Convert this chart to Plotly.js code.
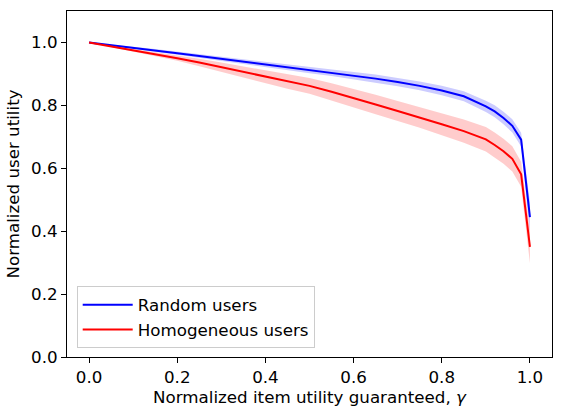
<!DOCTYPE html>
<html>
<head>
<meta charset="utf-8">
<script src="https://cdn.plot.ly/plotly-3.0.1.min.js"></script>
<style>
  html, body { margin: 0; padding: 0; background: #fff; }
  #myDiv { width: 561px; height: 414px; }
</style>
</head>
<body>
<div id="myDiv"></div>
<script>
var gamma = [0, 0.05, 0.1, 0.15, 0.2, 0.25, 0.3, 0.35, 0.4, 0.45, 0.5, 0.55, 0.6, 0.65, 0.7, 0.75, 0.8, 0.85, 0.9, 0.92, 0.94, 0.96, 0.98, 1.0];

var randomMean = [1.0, 0.992, 0.983, 0.975, 0.966, 0.957, 0.948, 0.939, 0.930, 0.922, 0.913, 0.904, 0.895, 0.885, 0.874, 0.862, 0.847, 0.829, 0.797, 0.781, 0.760, 0.735, 0.691, 0.445];
var randomStd  = [0, 0.002, 0.003, 0.004, 0.005, 0.006, 0.007, 0.008, 0.009, 0.010, 0.011, 0.011, 0.012, 0.013, 0.013, 0.014, 0.015, 0.016, 0.018, 0.019, 0.020, 0.021, 0.022, 0.045];

var homoMean = [1.0, 0.988, 0.975, 0.962, 0.950, 0.936, 0.921, 0.906, 0.891, 0.876, 0.862, 0.843, 0.824, 0.803, 0.782, 0.762, 0.740, 0.718, 0.692, 0.674, 0.654, 0.630, 0.581, 0.350];
var homoStd  = [0, 0.002, 0.004, 0.006, 0.008, 0.012, 0.015, 0.018, 0.020, 0.023, 0.025, 0.027, 0.029, 0.031, 0.032, 0.033, 0.035, 0.037, 0.039, 0.040, 0.040, 0.040, 0.040, 0.052];

function band(mean, std, sign) {
  return mean.map(function (m, i) { return m + sign * std[i]; });
}

var font = 'DejaVu Sans, sans-serif';
var fs = 16.7;

var data = [
  {x: gamma, y: band(randomMean, randomStd, -1), mode: 'lines', line: {width: 0}, showlegend: false, hoverinfo: 'skip'},
  {x: gamma, y: band(randomMean, randomStd, 1), mode: 'lines', line: {width: 0}, fill: 'tonexty', fillcolor: 'rgba(0,0,255,0.2)', showlegend: false, hoverinfo: 'skip'},
  {x: gamma, y: randomMean, mode: 'lines', name: 'Random users', line: {color: 'blue', width: 2}},
  {x: gamma, y: band(homoMean, homoStd, -1), mode: 'lines', line: {width: 0}, showlegend: false, hoverinfo: 'skip'},
  {x: gamma, y: band(homoMean, homoStd, 1), mode: 'lines', line: {width: 0}, fill: 'tonexty', fillcolor: 'rgba(255,0,0,0.2)', showlegend: false, hoverinfo: 'skip'},
  {x: gamma, y: homoMean, mode: 'lines', name: 'Homogeneous users', line: {color: 'red', width: 2}}
];

var layout = {
  width: 561,
  height: 414,
  margin: {l: 67, r: 9, t: 11, b: 57},
  paper_bgcolor: 'white',
  plot_bgcolor: 'white',
  font: {family: font, size: fs, color: '#000'},
  xaxis: {
    range: [-0.05, 1.05],
    tickvals: [0, 0.2, 0.4, 0.6, 0.8, 1.0],
    tickformat: '.1f',
    ticks: 'outside', ticklen: 5, tickcolor: '#000',
    showline: true, mirror: true, linecolor: '#000', linewidth: 1,
    showgrid: false, zeroline: false,
    tickfont: {size: fs},
    title: {text: 'Normalized item utility guaranteed, <i>γ</i>', font: {size: fs}, standoff: 5}
  },
  yaxis: {
    range: [0, 1.1],
    tickvals: [0, 0.2, 0.4, 0.6, 0.8, 1.0],
    tickformat: '.1f',
    ticks: 'outside', ticklen: 5, tickcolor: '#000',
    showline: true, mirror: true, linecolor: '#000', linewidth: 1,
    showgrid: false, zeroline: false,
    tickfont: {size: fs},
    title: {text: 'Normalized user utility', font: {size: fs}, standoff: 7}
  },
  legend: {
    x: 0.02, y: 0.025, xanchor: 'left', yanchor: 'bottom',
    traceorder: 'normal',
    itemwidth: 50,
    bgcolor: 'rgba(255,255,255,0.8)', bordercolor: '#cccccc', borderwidth: 1,
    font: {size: fs}
  },
  showlegend: true
};

Plotly.newPlot('myDiv', data, layout, {displayModeBar: false, staticPlot: true});
</script>
</body>
</html>
